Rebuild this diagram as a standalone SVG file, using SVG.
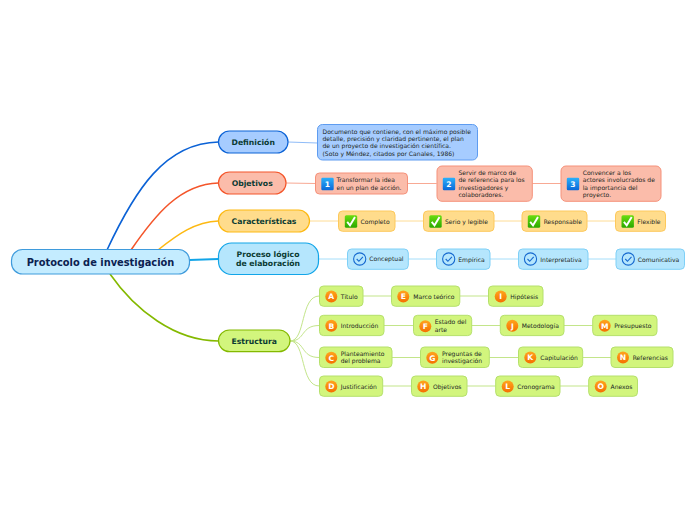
<svg xmlns="http://www.w3.org/2000/svg" width="696" height="520" viewBox="0 0 696 520">
<style>
text{font-family:"DejaVu Sans",Verdana,sans-serif}
.s{font-size:6.05px;fill:#1c2724}
.m{font-size:7.7px;font-weight:bold;fill:#0b3b33}
.r{font-size:9.85px;font-weight:bold;fill:#0b2150}
.l{font-size:7.6px;font-weight:bold;fill:#fff;text-anchor:middle}
.mid{text-anchor:middle}
.con path{fill:none}
.bl{fill:#a6ccff;stroke:#5e9cf0}
.or{fill:#fbbcaa;stroke:#f5917a}
.ye{fill:#ffdc8c;stroke:#fdc95c}
.cy{fill:#b5e6fd;stroke:#7fd0f7}
.gr{fill:#d2f57d;stroke:#b5e06c}
rect{stroke-width:1}
.main{stroke-width:1.2}
.bic{fill:none;stroke:#1568cf;stroke-width:1.100}
</style>
<defs>
<linearGradient id="gb" x1="0" y1="0" x2="0" y2="1"><stop offset="0" stop-color="#2bb0fa"/><stop offset="1" stop-color="#0a68d8"/></linearGradient>
<linearGradient id="gg" x1="0" y1="0" x2="0" y2="1"><stop offset="0" stop-color="#6add10"/><stop offset="1" stop-color="#2aa800"/></linearGradient>
<linearGradient id="go" x1="0" y1="0" x2="0" y2="1"><stop offset="0" stop-color="#ffa51e"/><stop offset="1" stop-color="#f56f00"/></linearGradient>
<symbol id="chk" overflow="visible"><rect x="-6.200" y="-6.200" width="12.400" height="12.400" rx="1.500" fill="url(#gg)" stroke="none"/><path d="M-3.800 0.400-1 3.800 4 -4.600" fill="none" stroke="#fff" stroke-width="1.900"/></symbol>
<symbol id="cir" overflow="visible"><circle r="6.100" class="bic"/><path d="M-3 0-0.800 2.300 3.200 -2.200" class="bic"/></symbol>
<symbol id="num" overflow="visible"><rect x="-6.200" y="-6.200" width="12.400" height="12.400" rx="1.200" fill="url(#gb)" stroke="none"/></symbol>
<symbol id="org" overflow="visible"><circle r="6" fill="url(#go)"/></symbol>
</defs>
<g class="con">
<path d="M107 250C135 190 165 143 218.500 142" stroke="#0b62d6" stroke-width="1.600"/>
<path d="M131 250C155 215 180 184 218.500 183" stroke="#f4552a" stroke-width="1.600"/>
<path d="M158 250C178 234 195 222 218.500 221" stroke="#fdb913" stroke-width="1.600"/>
<path d="M189.500 260 218.500 259" stroke="#12a5e8" stroke-width="1.800"/>
<path d="M110 274C135 310 175 341 218.500 341" stroke="#84b900" stroke-width="1.600"/>
<g stroke="#8fbcf8" stroke-width="1"><path d="M288 142 317.500 143"/></g>
<g stroke="#f8a994" stroke-width="1"><path d="M286 183 315 183.500M407.700 183.500H436.700M532.300 183.500H561"/></g>
<g stroke="#fedc94" stroke-width="1"><path d="M309.500 221H338.300M395 221H423.300M494 221H522M587 221H615.500"/></g>
<g stroke="#a5defa" stroke-width="1"><path d="M318.500 259H347.300M408.300 259H436.300M490 259H518.300M588 259H616"/></g>
<g stroke="#c3e58a" stroke-width="1">
<path d="M290 341C306 341 300 296 319.300 296"/>
<path d="M290 341C306 341 300 325.500 319.300 325.500"/>
<path d="M290 341C306 341 300 357.500 319.300 357.500"/>
<path d="M290 341C306 341 300 386 319.300 386"/>
<path d="M363 296H391.500M460 296H488.300M384 325.500H413.300M471.700 325.500H500M564 325.500H592.700M392 357.500H420.300M489.300 357.500H518.300M582.700 357.500H611M382.700 386H411.500M467 386H495.700M560 386H588.700"/>
</g>
</g>
<g id="root"><rect x="11.500" y="249.500" width="178" height="24.500" rx="11" fill="#c4ecff" stroke="#3f9bdc" class="main"/><text x="100.500" y="265.500" class="r mid">Protocolo de investigación</text></g>
<g id="definicion"><rect x="218.500" y="131" width="69.500" height="22" rx="11" class="bl main" style="stroke:#0b62d6"/><text x="253.200" y="144.800" class="m mid">Definición</text></g>
<g id="objetivos"><rect x="218.500" y="172" width="67.500" height="22" rx="11" class="or main" style="stroke:#f4552a"/><text x="252.200" y="185.800" class="m mid">Objetivos</text></g>
<g id="caracteristicas"><rect x="218.500" y="210" width="91" height="22" rx="11" class="ye main" style="stroke:#fdb913"/><text x="264" y="223.800" class="m mid">Características</text></g>
<g id="proceso"><rect x="218.500" y="243" width="100" height="31.500" rx="13" class="cy main" style="stroke:#12a5e8"/><text x="268" y="256.700" class="m mid">Proceso lógico</text><text x="268" y="265.500" class="m mid">de elaboración</text></g>
<g id="estructura"><rect x="218.500" y="330" width="71.500" height="21.700" rx="11" class="gr main" style="stroke:#84b900"/><text x="254.200" y="343.800" class="m mid">Estructura</text></g>
<g id="def-note"><rect x="317.500" y="124.500" width="160" height="35.500" rx="5" class="bl"/><text class="s" x="322.500" y="133.800">Documento que contiene, con el máximo posible</text><text class="s" x="322.500" y="140.800">detalle, precisión y claridad pertinente, el plan</text><text class="s" x="322.500" y="147.800">de un proyecto de investigación científica.</text><text class="s" x="322.500" y="155.800">(Soto y Méndez, citados por Canales, 1986)</text></g>
<g id="obj1"><rect x="315.500" y="173" width="92" height="21" rx="4" class="or"/><use href="#num" x="327.500" y="184"/><text class="l" x="327.500" y="186.800">1</text><text class="s" x="336.500" y="181.800">Transformar la idea</text><text class="s" x="336.500" y="189.500">en un plan de acción.</text></g>
<g id="obj2"><rect x="437" y="166" width="95.300" height="35.300" rx="5" class="or"/><use href="#num" x="449" y="184"/><text class="l" x="449" y="186.800">2</text><text class="s" x="458.500" y="174.800">Servir de marco de</text><text class="s" x="458.500" y="182">de referencia para los</text><text class="s" x="458.500" y="189.500">investigadores y</text><text class="s" x="458.500" y="196.800">colaboradores.</text></g>
<g id="obj3"><rect x="561" y="166" width="100" height="35.300" rx="5" class="or"/><use href="#num" x="573" y="184"/><text class="l" x="573" y="186.800">3</text><text class="s" x="582.700" y="174.800">Convencer a los</text><text class="s" x="582.700" y="182">actores involucrados de</text><text class="s" x="582.700" y="189.500">la importancia del</text><text class="s" x="582.700" y="196.800">proyecto.</text></g>
<g id="car1"><rect x="338.500" y="211" width="56.500" height="20.300" rx="4" class="ye"/><use href="#chk" x="351" y="221.500"/><text class="s" x="360.500" y="223.500">Completo</text></g>
<g id="car2"><rect x="423.500" y="211" width="70.500" height="20.300" rx="4" class="ye"/><use href="#chk" x="435.500" y="221.500"/><text class="s" x="445" y="223.500">Serio y legible</text></g>
<g id="car3"><rect x="522" y="211" width="65" height="20.300" rx="4" class="ye"/><use href="#chk" x="534" y="221.500"/><text class="s" x="543.700" y="223.500">Responsable</text></g>
<g id="car4"><rect x="615.500" y="211" width="50" height="20.300" rx="4" class="ye"/><use href="#chk" x="627.700" y="221.500"/><text class="s" x="637.300" y="223.500">Flexible</text></g>
<g id="pro1"><rect x="347.500" y="249" width="60.800" height="20.300" rx="4" class="cy"/><use href="#cir" x="359.700" y="259"/><text class="s" x="369.300" y="260.800">Conceptual</text></g>
<g id="pro2"><rect x="436.500" y="249" width="53.500" height="20.300" rx="4" class="cy"/><use href="#cir" x="448.700" y="259"/><text class="s" x="458.300" y="261.500">Empírica</text></g>
<g id="pro3"><rect x="518.500" y="249" width="69.500" height="20.300" rx="4" class="cy"/><use href="#cir" x="530.500" y="259"/><text class="s" x="540.300" y="261.500">Interpretativa</text></g>
<g id="pro4"><rect x="616" y="249" width="68.500" height="20.300" rx="4" class="cy"/><use href="#cir" x="628.300" y="259"/><text class="s" x="637.800" y="261.500">Comunicativa</text></g>
<g id="a"><rect x="319.500" y="286" width="43.500" height="20.300" rx="4" class="gr"/><use href="#org" x="331.300" y="296.500"/><text class="l" x="331.300" y="299.300">A</text><text class="s" x="340.700" y="298.800">Título</text></g>
<g id="e"><rect x="391.500" y="286" width="68.300" height="20.300" rx="4" class="gr"/><use href="#org" x="403.300" y="296.500"/><text class="l" x="403.300" y="299.300">E</text><text class="s" x="413.300" y="298.800">Marco teórico</text></g>
<g id="i"><rect x="488.500" y="286" width="54.500" height="20.300" rx="4" class="gr"/><use href="#org" x="500.700" y="296.500"/><text class="l" x="500.700" y="299.300">I</text><text class="s" x="510.300" y="298.800">Hipótesis</text></g>
<g id="b"><rect x="319.500" y="315.300" width="64.500" height="20.300" rx="4" class="gr"/><use href="#org" x="331.300" y="325.700"/><text class="l" x="331.300" y="328.500">B</text><text class="s" x="340.700" y="328">Introducción</text></g>
<g id="f"><rect x="413.500" y="315.300" width="58.200" height="20.300" rx="4" class="gr"/><use href="#org" x="425.300" y="326.300"/><text class="l" x="425.300" y="329.100">F</text><text class="s" x="434.700" y="324">Estado del</text><text class="s" x="434.700" y="331.500">arte</text></g>
<g id="j"><rect x="500.300" y="315.300" width="63.700" height="20.300" rx="4" class="gr"/><use href="#org" x="512.300" y="325.700"/><text class="l" x="512.300" y="328.500">J</text><text class="s" x="521.700" y="328">Metodología</text></g>
<g id="m"><rect x="592.700" y="315.300" width="64.300" height="20.300" rx="4" class="gr"/><use href="#org" x="604.700" y="325.700"/><text class="l" x="604.700" y="328.500">M</text><text class="s" x="614.300" y="328">Presupuesto</text></g>
<g id="c"><rect x="319.500" y="347" width="72.500" height="20.500" rx="4" class="gr"/><use href="#org" x="331.300" y="357.700"/><text class="l" x="331.300" y="360.500">C</text><text class="s" x="340.700" y="355.500">Planteamiento</text><text class="s" x="340.700" y="363">del problema</text></g>
<g id="g"><rect x="420.500" y="347" width="68.800" height="20.500" rx="4" class="gr"/><use href="#org" x="432.300" y="357.700"/><text class="l" x="432.300" y="360.500">G</text><text class="s" x="442" y="355.500">Preguntas de</text><text class="s" x="442" y="363">investigación</text></g>
<g id="k"><rect x="518.500" y="347" width="64.200" height="20.500" rx="4" class="gr"/><use href="#org" x="530.300" y="357.500"/><text class="l" x="530.300" y="360.300">K</text><text class="s" x="540.300" y="359.700">Capitulación</text></g>
<g id="n"><rect x="611" y="347" width="62" height="20.500" rx="4" class="gr"/><use href="#org" x="623" y="357.500"/><text class="l" x="623" y="360.300">N</text><text class="s" x="632.700" y="359.700">Referencias</text></g>
<g id="d"><rect x="319.500" y="376" width="63.200" height="20.300" rx="4" class="gr"/><use href="#org" x="331.300" y="386.500"/><text class="l" x="331.300" y="389.300">D</text><text class="s" x="340.700" y="388.500">Justificación</text></g>
<g id="h"><rect x="411.500" y="376" width="55.500" height="20.300" rx="4" class="gr"/><use href="#org" x="423.300" y="386.500"/><text class="l" x="423.300" y="389.300">H</text><text class="s" x="433" y="388.700">Objetivos</text></g>
<g id="l"><rect x="495.700" y="376" width="64.300" height="20.300" rx="4" class="gr"/><use href="#org" x="507.700" y="386.500"/><text class="l" x="507.700" y="389.300">L</text><text class="s" x="517.300" y="388.700">Cronograma</text></g>
<g id="o"><rect x="588.700" y="376" width="48.800" height="20.300" rx="4" class="gr"/><use href="#org" x="600.700" y="386.500"/><text class="l" x="600.700" y="389.300">O</text><text class="s" x="610.500" y="388.700">Anexos</text></g>
</svg>
